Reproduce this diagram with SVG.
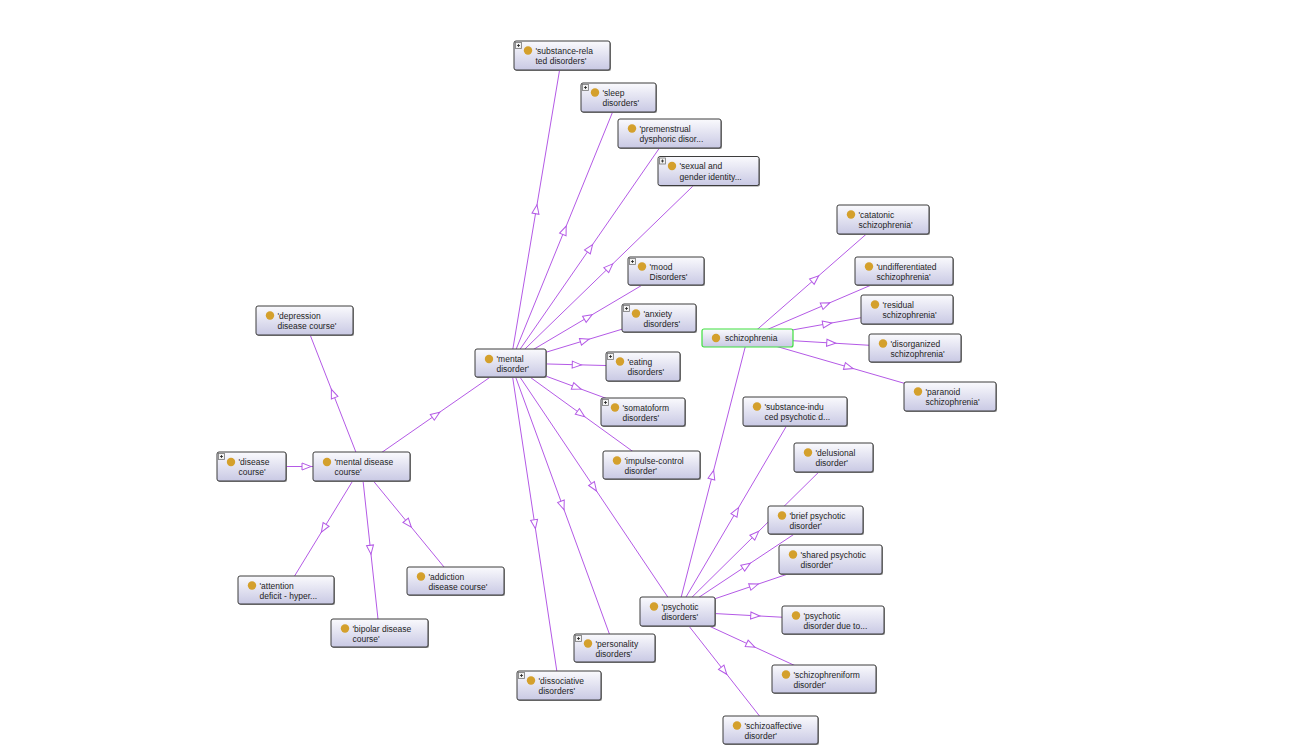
<svg xmlns="http://www.w3.org/2000/svg" xmlns:xlink="http://www.w3.org/1999/xlink" width="1315" height="755" viewBox="0 0 1315 755">
<style>
.b{fill:url(#g);stroke:#3c3c3c;stroke-width:1}
.bs{fill:url(#g);stroke:#3ee03e;stroke-width:1.2}
.s{fill:#8a8a8a}
.d{fill:#d4a02c}
.t{font-family:"Liberation Sans",Arial,sans-serif;font-size:8.5px;fill:#1e1e1e}
.e{fill:none;stroke:#b45ae6;stroke-width:1;marker-mid:url(#arr)}
</style>
<defs>
<linearGradient id="g" x1="0" y1="0" x2="0" y2="1">
<stop offset="0" stop-color="#fafafd"/>
<stop offset="1" stop-color="#c9c9e4"/>
</linearGradient>
<marker id="arr" markerUnits="userSpaceOnUse" markerWidth="12" markerHeight="10" refX="4.5" refY="3.5" orient="auto" overflow="visible">
<path d="M0,0 L9,3.5 L0,7 Z" fill="#ffffff" stroke="#b45ae6" stroke-width="1"/>
</marker>
<g id="plus"><rect x="1.5" y="1.5" width="6" height="6" fill="#f2f2f2" stroke="#777" stroke-width="0.8"/><path d="M3 4.5h3M4.5 3v3" stroke="#222" stroke-width="0.8"/></g>
</defs>
<rect width="1315" height="755" fill="#ffffff"/>
<g id="connectors">
<path class="e" d="M251.5,466.5 L306.5,466.5 L361.5,466.5"/>
<path class="e" d="M361.5,466.5 L333,393.5 L304.5,320.5"/>
<path class="e" d="M361.5,466.5 L436,414.75 L510.5,363"/>
<path class="e" d="M361.5,466.5 L323.75,528.25 L286,590"/>
<path class="e" d="M361.5,466.5 L370.5,549.75 L379.5,633"/>
<path class="e" d="M361.5,466.5 L408.5,523.75 L455.5,581"/>
<path class="e" d="M510.5,363 L536.25,209.25 L562,55.5"/>
<path class="e" d="M510.5,363 L564.5,230.25 L618.5,97.5"/>
<path class="e" d="M510.5,363 L590,248.25 L669.5,133.5"/>
<path class="e" d="M510.5,363 L609.5,267 L708.5,171"/>
<path class="e" d="M510.5,363 L588.25,317 L666,271"/>
<path class="e" d="M510.5,363 L584.75,340.5 L659,318"/>
<path class="e" d="M510.5,363 L576.75,364.75 L643,366.5"/>
<path class="e" d="M510.5,363 L576.75,387.5 L643,412"/>
<path class="e" d="M510.5,363 L581,414 L651.5,465"/>
<path class="e" d="M510.5,363 L594,487.25 L677.5,611.5"/>
<path class="e" d="M510.5,363 L562.5,505.5 L614.5,648"/>
<path class="e" d="M510.5,363 L534.75,524.25 L559,685.5"/>
<path class="e" d="M677.5,611.5 L712.5,474.75 L747.5,338"/>
<path class="e" d="M677.5,611.5 L736.25,511.5 L795,411.5"/>
<path class="e" d="M677.5,611.5 L755.5,534.5 L833.5,457.5"/>
<path class="e" d="M677.5,611.5 L746.5,565.75 L815.5,520"/>
<path class="e" d="M677.5,611.5 L754,585.5 L830.5,559.5"/>
<path class="e" d="M677.5,611.5 L755.25,615.75 L833,620"/>
<path class="e" d="M677.5,611.5 L750.75,645.25 L824,679"/>
<path class="e" d="M677.5,611.5 L724,670.75 L770.5,730"/>
<path class="e" d="M747.5,338 L815.25,278.75 L883,219.5"/>
<path class="e" d="M747.5,338 L825.75,304.5 L904,271"/>
<path class="e" d="M747.5,338 L827.25,323.75 L907,309.5"/>
<path class="e" d="M747.5,338 L831.25,343 L915,348"/>
<path class="e" d="M747.5,338 L848.75,367.25 L950,396.5"/>
</g>

<g id="n-substance-related" transform="translate(514,41)"><rect class="s" x="1" y="1" width="96" height="29" rx="2"/><rect class="b" width="96" height="29" rx="2"/><use href="#plus"/><circle class="d" cx="14" cy="9.5" r="4.2"/><text class="t" x="21.5" y="12.5">'substance-rela</text><text class="t" x="21.5" y="23">ted disorders'</text></g>
<g id="n-sleep" transform="translate(581,83)"><rect class="s" x="1" y="1" width="75" height="29" rx="2"/><rect class="b" width="75" height="29" rx="2"/><use href="#plus"/><circle class="d" cx="14" cy="9.5" r="4.2"/><text class="t" x="21.5" y="12.5">'sleep</text><text class="t" x="21.5" y="23">disorders'</text></g>
<g id="n-premenstrual" transform="translate(618,119)"><rect class="s" x="1" y="1" width="103" height="29" rx="2"/><rect class="b" width="103" height="29" rx="2"/><circle class="d" cx="14" cy="9.5" r="4.2"/><text class="t" x="21.5" y="12.5">'premenstrual</text><text class="t" x="21.5" y="23">dysphoric disor...</text></g>
<g id="n-sexual" transform="translate(658,156.5)"><rect class="s" x="1" y="1" width="101" height="29" rx="2"/><rect class="b" width="101" height="29" rx="2"/><use href="#plus"/><circle class="d" cx="14" cy="9.5" r="4.2"/><text class="t" x="21.5" y="12.5">'sexual and</text><text class="t" x="21.5" y="23">gender identity...</text></g>
<g id="n-mood" transform="translate(628,257)"><rect class="s" x="1" y="1" width="76" height="28" rx="2"/><rect class="b" width="76" height="28" rx="2"/><use href="#plus"/><circle class="d" cx="14" cy="9.5" r="4.2"/><text class="t" x="21.5" y="12.5">'mood</text><text class="t" x="21.5" y="23">Disorders'</text></g>
<g id="n-anxiety" transform="translate(622,304)"><rect class="s" x="1" y="1" width="74" height="28" rx="2"/><rect class="b" width="74" height="28" rx="2"/><use href="#plus"/><circle class="d" cx="14" cy="9.5" r="4.2"/><text class="t" x="21.5" y="12.5">'anxiety</text><text class="t" x="21.5" y="23">disorders'</text></g>
<g id="n-mental-disorder" transform="translate(475,349)"><rect class="s" x="1" y="1" width="71" height="28" rx="2"/><rect class="b" width="71" height="28" rx="2"/><circle class="d" cx="14" cy="10" r="4.2"/><text class="t" x="21.5" y="12.5">'mental</text><text class="t" x="21.5" y="23">disorder'</text></g>
<g id="n-eating" transform="translate(606,352)"><rect class="s" x="1" y="1" width="74" height="29" rx="2"/><rect class="b" width="74" height="29" rx="2"/><use href="#plus"/><circle class="d" cx="14" cy="9.5" r="4.2"/><text class="t" x="21.5" y="12.5">'eating</text><text class="t" x="21.5" y="23">disorders'</text></g>
<g id="n-somatoform" transform="translate(601,398)"><rect class="s" x="1" y="1" width="84" height="28" rx="2"/><rect class="b" width="84" height="28" rx="2"/><use href="#plus"/><circle class="d" cx="14" cy="9.5" r="4.2"/><text class="t" x="21.5" y="12.5">'somatoform</text><text class="t" x="21.5" y="23">disorders'</text></g>
<g id="n-impulse-control" transform="translate(603,451)"><rect class="s" x="1" y="1" width="97" height="28" rx="2"/><rect class="b" width="97" height="28" rx="2"/><circle class="d" cx="14" cy="9.5" r="4.2"/><text class="t" x="21.5" y="12.5">'impulse-control</text><text class="t" x="21.5" y="23">disorder'</text></g>
<g id="n-catatonic" transform="translate(837,205)"><rect class="s" x="1" y="1" width="92" height="29" rx="2"/><rect class="b" width="92" height="29" rx="2"/><circle class="d" cx="14" cy="9.5" r="4.2"/><text class="t" x="21.5" y="12.5">'catatonic</text><text class="t" x="21.5" y="23">schizophrenia'</text></g>
<g id="n-undifferentiated" transform="translate(855,257)"><rect class="s" x="1" y="1" width="98" height="28" rx="2"/><rect class="b" width="98" height="28" rx="2"/><circle class="d" cx="14" cy="9.5" r="4.2"/><text class="t" x="21.5" y="12.5">'undifferentiated</text><text class="t" x="21.5" y="23">schizophrenia'</text></g>
<g id="n-residual" transform="translate(861,295)"><rect class="s" x="1" y="1" width="92" height="29" rx="2"/><rect class="b" width="92" height="29" rx="2"/><circle class="d" cx="14" cy="9.5" r="4.2"/><text class="t" x="21.5" y="12.5">'residual</text><text class="t" x="21.5" y="23">schizophrenia'</text></g>
<g id="n-schizophrenia" transform="translate(702,329)"><rect class="bs" width="91" height="18" rx="2"/><circle class="d" cx="14" cy="9" r="4.2"/><text class="t" x="23" y="12">schizophrenia</text></g>
<g id="n-disorganized" transform="translate(869,334)"><rect class="s" x="1" y="1" width="92" height="28" rx="2"/><rect class="b" width="92" height="28" rx="2"/><circle class="d" cx="14" cy="9.5" r="4.2"/><text class="t" x="21.5" y="12.5">'disorganized</text><text class="t" x="21.5" y="23">schizophrenia'</text></g>
<g id="n-paranoid" transform="translate(904,382)"><rect class="s" x="1" y="1" width="92" height="29" rx="2"/><rect class="b" width="92" height="29" rx="2"/><circle class="d" cx="14" cy="9.5" r="4.2"/><text class="t" x="21.5" y="12.5">'paranoid</text><text class="t" x="21.5" y="23">schizophrenia'</text></g>
<g id="n-substance-induced" transform="translate(743,397)"><rect class="s" x="1" y="1" width="104" height="29" rx="2"/><rect class="b" width="104" height="29" rx="2"/><circle class="d" cx="14" cy="9.5" r="4.2"/><text class="t" x="21.5" y="12.5">'substance-indu</text><text class="t" x="21.5" y="23">ced psychotic d...</text></g>
<g id="n-delusional" transform="translate(794,443)"><rect class="s" x="1" y="1" width="79" height="29" rx="2"/><rect class="b" width="79" height="29" rx="2"/><circle class="d" cx="14" cy="9.5" r="4.2"/><text class="t" x="21.5" y="12.5">'delusional</text><text class="t" x="21.5" y="23">disorder'</text></g>
<g id="n-brief" transform="translate(768,506)"><rect class="s" x="1" y="1" width="95" height="28" rx="2"/><rect class="b" width="95" height="28" rx="2"/><circle class="d" cx="14" cy="9.5" r="4.2"/><text class="t" x="21.5" y="12.5">'brief psychotic</text><text class="t" x="21.5" y="23">disorder'</text></g>
<g id="n-shared" transform="translate(779,545)"><rect class="s" x="1" y="1" width="103" height="29" rx="2"/><rect class="b" width="103" height="29" rx="2"/><circle class="d" cx="14" cy="9.5" r="4.2"/><text class="t" x="21.5" y="12.5">'shared psychotic</text><text class="t" x="21.5" y="23">disorder'</text></g>
<g id="n-psychotic-disorders" transform="translate(640,597)"><rect class="s" x="1" y="1" width="75" height="29" rx="2"/><rect class="b" width="75" height="29" rx="2"/><circle class="d" cx="14" cy="9.5" r="4.2"/><text class="t" x="21.5" y="12.5">'psychotic</text><text class="t" x="21.5" y="23">disorders'</text></g>
<g id="n-psychotic-due-to" transform="translate(782,606)"><rect class="s" x="1" y="1" width="102" height="28" rx="2"/><rect class="b" width="102" height="28" rx="2"/><circle class="d" cx="14" cy="9.5" r="4.2"/><text class="t" x="21.5" y="12.5">'psychotic</text><text class="t" x="21.5" y="23">disorder due to...</text></g>
<g id="n-personality" transform="translate(574,634)"><rect class="s" x="1" y="1" width="81" height="28" rx="2"/><rect class="b" width="81" height="28" rx="2"/><use href="#plus"/><circle class="d" cx="14" cy="9.5" r="4.2"/><text class="t" x="21.5" y="12.5">'personality</text><text class="t" x="21.5" y="23">disorders'</text></g>
<g id="n-dissociative" transform="translate(517,671)"><rect class="s" x="1" y="1" width="84" height="29" rx="2"/><rect class="b" width="84" height="29" rx="2"/><use href="#plus"/><circle class="d" cx="14" cy="9.5" r="4.2"/><text class="t" x="21.5" y="12.5">'dissociative</text><text class="t" x="21.5" y="23">disorders'</text></g>
<g id="n-schizophreniform" transform="translate(772,665)"><rect class="s" x="1" y="1" width="104" height="28" rx="2"/><rect class="b" width="104" height="28" rx="2"/><circle class="d" cx="14" cy="9.5" r="4.2"/><text class="t" x="21.5" y="12.5">'schizophreniform</text><text class="t" x="21.5" y="23">disorder'</text></g>
<g id="n-schizoaffective" transform="translate(723,716)"><rect class="s" x="1" y="1" width="95" height="28" rx="2"/><rect class="b" width="95" height="28" rx="2"/><circle class="d" cx="14" cy="9.5" r="4.2"/><text class="t" x="21.5" y="12.5">'schizoaffective</text><text class="t" x="21.5" y="23">disorder'</text></g>
<g id="n-depression" transform="translate(256,306)"><rect class="s" x="1" y="1" width="97" height="29" rx="2"/><rect class="b" width="97" height="29" rx="2"/><circle class="d" cx="14" cy="9.5" r="4.2"/><text class="t" x="21.5" y="12.5">'depression</text><text class="t" x="21.5" y="23">disease course'</text></g>
<g id="n-disease-course" transform="translate(217,452)"><rect class="s" x="1" y="1" width="69" height="29" rx="2"/><rect class="b" width="69" height="29" rx="2"/><use href="#plus"/><circle class="d" cx="14" cy="10" r="4.2"/><text class="t" x="21.5" y="12.5">'disease</text><text class="t" x="21.5" y="23">course'</text></g>
<g id="n-mental-disease-course" transform="translate(313,452)"><rect class="s" x="1" y="1" width="97" height="29" rx="2"/><rect class="b" width="97" height="29" rx="2"/><circle class="d" cx="14" cy="10" r="4.2"/><text class="t" x="21.5" y="12.5">'mental disease</text><text class="t" x="21.5" y="23">course'</text></g>
<g id="n-attention" transform="translate(238,576)"><rect class="s" x="1" y="1" width="96" height="28" rx="2"/><rect class="b" width="96" height="28" rx="2"/><circle class="d" cx="14" cy="9.5" r="4.2"/><text class="t" x="21.5" y="12.5">'attention</text><text class="t" x="21.5" y="23">deficit - hyper...</text></g>
<g id="n-bipolar" transform="translate(331,619)"><rect class="s" x="1" y="1" width="97" height="28" rx="2"/><rect class="b" width="97" height="28" rx="2"/><circle class="d" cx="14" cy="9.5" r="4.2"/><text class="t" x="21.5" y="12.5">'bipolar disease</text><text class="t" x="21.5" y="23">course'</text></g>
<g id="n-addiction" transform="translate(407,567)"><rect class="s" x="1" y="1" width="97" height="28" rx="2"/><rect class="b" width="97" height="28" rx="2"/><circle class="d" cx="14" cy="9.5" r="4.2"/><text class="t" x="21.5" y="12.5">'addiction</text><text class="t" x="21.5" y="23">disease course'</text></g>
</svg>
